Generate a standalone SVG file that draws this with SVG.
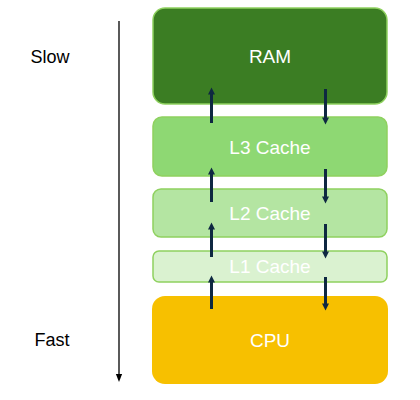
<svg xmlns="http://www.w3.org/2000/svg" width="420" height="400" viewBox="0 0 420 400">
<defs>
<style>
.box{stroke:#8fd15f;stroke-width:1.5}
.lbl{font-family:"Liberation Sans",Arial,sans-serif;font-size:19px;fill:#ffffff;text-anchor:middle}
.side{font-family:"Liberation Sans",Arial,sans-serif;font-size:18px;fill:#000000;text-anchor:middle}
.flow{stroke:#0e2841;stroke-width:3;fill:none}
</style>
<marker id="ah" viewBox="0 0 6 6" refX="3" refY="3" markerWidth="2.4" markerHeight="2.4" orient="auto">
<path d="M0,0 L6,3 L0,6 z" fill="#0e2841"/>
</marker>
<marker id="axh" viewBox="0 0 10 10" refX="5" refY="5" markerWidth="6" markerHeight="6" orient="auto">
<path d="M0,1 L10,5 L0,9 z" fill="#000000"/>
</marker>
</defs>
<g id="speed-axis">
<line x1="119" y1="21" x2="119" y2="378" stroke="#000" stroke-width="1.3" marker-end="url(#axh)"/>
<text class="side" x="50" y="63">Slow</text>
<text class="side" x="52" y="346">Fast</text>
</g>
<g id="ram">
<rect class="box" x="153" y="8" width="234" height="96" rx="12" fill="#3b7d23"/>
<text class="lbl" x="270" y="63">RAM</text>
</g>
<g id="l3">
<rect class="box" x="153" y="117" width="234" height="59" rx="9" fill="#8ed873"/>
<text class="lbl" x="270" y="154">L3 Cache</text>
</g>
<g id="l2">
<rect class="box" x="153" y="189" width="234" height="48" rx="8" fill="#b4e5a2"/>
<text class="lbl" x="270" y="220">L2 Cache</text>
</g>
<g id="l1">
<rect class="box" x="153" y="251" width="234" height="31" rx="6" fill="#daf2d0"/>
<text class="lbl" x="270" y="272.5">L1 Cache</text>
</g>
<g id="cpu">
<rect x="152" y="296" width="236" height="88" rx="13" fill="#f7c000"/>
<text class="lbl" x="270" y="346.5">CPU</text>
</g>
<g id="connectors">
<line class="flow" x1="211.5" y1="123" x2="211.5" y2="91" marker-end="url(#ah)"/>
<line class="flow" x1="325.5" y1="89" x2="325.5" y2="121" marker-end="url(#ah)"/>
<line class="flow" x1="211.5" y1="202" x2="211.5" y2="171" marker-end="url(#ah)"/>
<line class="flow" x1="325.5" y1="169" x2="325.5" y2="200" marker-end="url(#ah)"/>
<line class="flow" x1="211.5" y1="257" x2="211.5" y2="226" marker-end="url(#ah)"/>
<line class="flow" x1="325.5" y1="224" x2="325.5" y2="255" marker-end="url(#ah)"/>
<line class="flow" x1="211.5" y1="309" x2="211.5" y2="279" marker-end="url(#ah)"/>
<line class="flow" x1="325.5" y1="277" x2="325.5" y2="307" marker-end="url(#ah)"/>
</g>
</svg>
